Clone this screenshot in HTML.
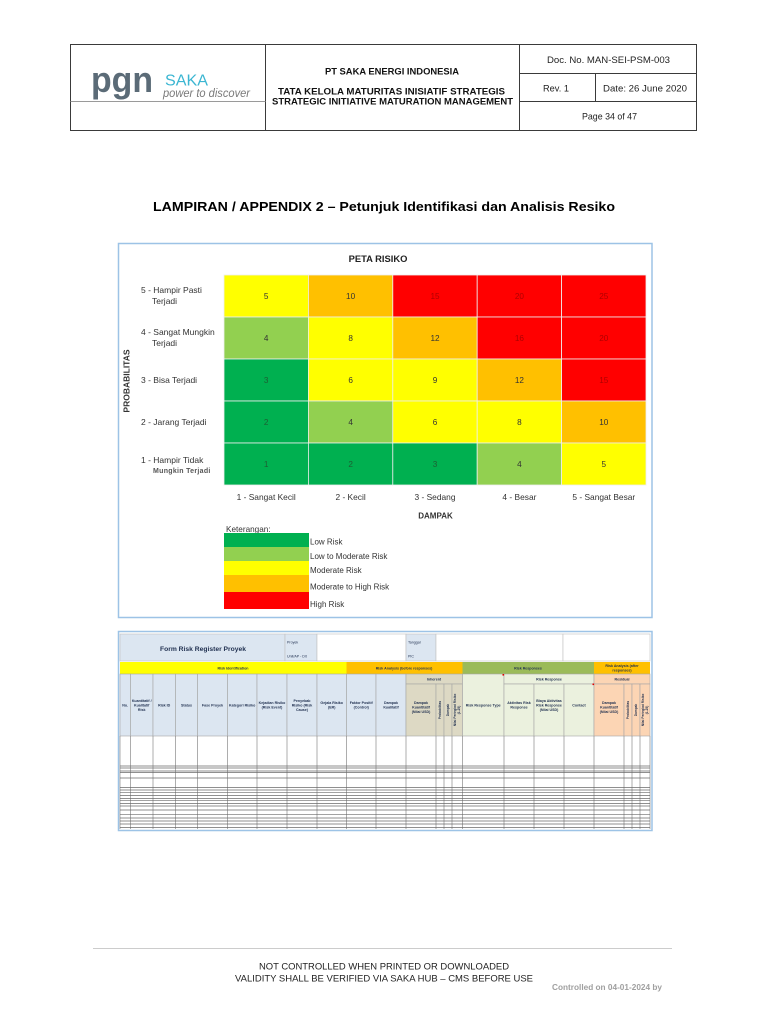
<!DOCTYPE html>
<html>
<head>
<meta charset="utf-8">
<style>
html,body{margin:0;padding:0;background:#fff;}
svg{display:block;}
</style>
</head>
<body>
<svg width="768" height="1024" viewBox="0 0 768 1024" xmlns="http://www.w3.org/2000/svg" font-family="'Liberation Sans', Arial, sans-serif">
<rect x="0" y="0" width="768" height="1024" fill="#fff"/>

<!-- ===== HEADER ===== -->
<g fill="none" stroke="#3a3a3a" stroke-width="1">
  <rect x="70.5" y="44.5" width="626" height="86"/>
  <line x1="265.5" y1="44.5" x2="265.5" y2="130.5"/>
  <line x1="519.5" y1="44.5" x2="519.5" y2="130.5"/>
  <line x1="519.5" y1="73.5" x2="696.5" y2="73.5"/>
  <line x1="519.5" y1="101.5" x2="696.5" y2="101.5"/>
  <line x1="595.5" y1="73.5" x2="595.5" y2="101.5"/>
  <line x1="70.5" y1="101.5" x2="265.5" y2="101.5" stroke="#9a9a9a"/>
</g>
<!-- logo -->
<text x="91" y="92" font-size="36" font-weight="bold" fill="#5b6b77" textLength="62" lengthAdjust="spacingAndGlyphs">pgn</text>
<text x="165" y="85.5" font-size="15.5" fill="#3bb6d2" textLength="43" lengthAdjust="spacingAndGlyphs">SAKA</text>
<text x="163" y="97" font-size="11.5" font-style="italic" fill="#7a7a7a" textLength="87" lengthAdjust="spacingAndGlyphs">power to discover</text>

<!-- title texts -->
<text x="392" y="74.5" font-size="9.4" font-weight="bold" fill="#111" text-anchor="middle">PT SAKA ENERGI INDONESIA</text>
<text x="278" y="94.5" font-size="9.4" font-weight="bold" fill="#111" textLength="227" lengthAdjust="spacingAndGlyphs">TATA KELOLA MATURITAS INISIATIF STRATEGIS</text>
<text x="272" y="104.5" font-size="9.4" font-weight="bold" fill="#111" textLength="241" lengthAdjust="spacingAndGlyphs">STRATEGIC INITIATIVE MATURATION MANAGEMENT</text>

<text x="547" y="63" font-size="9.3" fill="#222" textLength="123" lengthAdjust="spacingAndGlyphs">Doc. No. MAN-SEI-PSM-003</text>
<text x="543" y="91.5" font-size="9.3" fill="#222" textLength="26" lengthAdjust="spacingAndGlyphs">Rev. 1</text>
<text x="603" y="91.5" font-size="9.3" fill="#222" textLength="84" lengthAdjust="spacingAndGlyphs">Date: 26 June 2020</text>
<text x="582" y="119.5" font-size="9.3" fill="#222" textLength="55" lengthAdjust="spacingAndGlyphs">Page 34 of 47</text>

<!-- ===== PAGE HEADING ===== -->
<text x="153" y="211" font-size="13.3" font-weight="bold" fill="#000" textLength="462" lengthAdjust="spacingAndGlyphs">LAMPIRAN / APPENDIX 2 – Petunjuk Identifikasi dan Analisis Resiko</text>

<!-- ===== RISK MAP ===== -->
<rect x="118.5" y="243.5" width="533.5" height="374" fill="#fff" stroke="#9dc3e6" stroke-width="1.5"/>
<text x="378" y="262" font-size="9.4" font-weight="bold" fill="#222" text-anchor="middle">PETA RISIKO</text>

<g stroke="#eeeeee" stroke-width="0.8">
  <rect x="224" y="275" width="84.4" height="42" fill="#ffff00"/>
  <rect x="308.4" y="275" width="84.4" height="42" fill="#ffc000"/>
  <rect x="392.8" y="275" width="84.4" height="42" fill="#ff0000"/>
  <rect x="477.2" y="275" width="84.4" height="42" fill="#ff0000"/>
  <rect x="561.6" y="275" width="84.4" height="42" fill="#ff0000"/>
  <rect x="224" y="317" width="84.4" height="42" fill="#92d050"/>
  <rect x="308.4" y="317" width="84.4" height="42" fill="#ffff00"/>
  <rect x="392.8" y="317" width="84.4" height="42" fill="#ffc000"/>
  <rect x="477.2" y="317" width="84.4" height="42" fill="#ff0000"/>
  <rect x="561.6" y="317" width="84.4" height="42" fill="#ff0000"/>
  <rect x="224" y="359" width="84.4" height="42" fill="#00b050"/>
  <rect x="308.4" y="359" width="84.4" height="42" fill="#ffff00"/>
  <rect x="392.8" y="359" width="84.4" height="42" fill="#ffff00"/>
  <rect x="477.2" y="359" width="84.4" height="42" fill="#ffc000"/>
  <rect x="561.6" y="359" width="84.4" height="42" fill="#ff0000"/>
  <rect x="224" y="401" width="84.4" height="42" fill="#00b050"/>
  <rect x="308.4" y="401" width="84.4" height="42" fill="#92d050"/>
  <rect x="392.8" y="401" width="84.4" height="42" fill="#ffff00"/>
  <rect x="477.2" y="401" width="84.4" height="42" fill="#ffff00"/>
  <rect x="561.6" y="401" width="84.4" height="42" fill="#ffc000"/>
  <rect x="224" y="443" width="84.4" height="42" fill="#00b050"/>
  <rect x="308.4" y="443" width="84.4" height="42" fill="#00b050"/>
  <rect x="392.8" y="443" width="84.4" height="42" fill="#00b050"/>
  <rect x="477.2" y="443" width="84.4" height="42" fill="#92d050"/>
  <rect x="561.6" y="443" width="84.4" height="42" fill="#ffff00"/>
</g>

<g font-size="8.2" text-anchor="middle">
  <text x="266.2" y="299" fill="#333">5</text>
  <text x="350.6" y="299" fill="#333">10</text>
  <text x="435" y="299" fill="#b00000">15</text>
  <text x="519.4" y="299" fill="#b00000">20</text>
  <text x="603.8" y="299" fill="#b00000">25</text>

  <text x="266.2" y="341" fill="#333">4</text>
  <text x="350.6" y="341" fill="#333">8</text>
  <text x="435" y="341" fill="#333">12</text>
  <text x="519.4" y="341" fill="#b00000">16</text>
  <text x="603.8" y="341" fill="#b00000">20</text>

  <text x="266.2" y="383" fill="#1d5e33">3</text>
  <text x="350.6" y="383" fill="#333">6</text>
  <text x="435" y="383" fill="#333">9</text>
  <text x="519.4" y="383" fill="#333">12</text>
  <text x="603.8" y="383" fill="#b00000">15</text>

  <text x="266.2" y="425" fill="#1d5e33">2</text>
  <text x="350.6" y="425" fill="#333">4</text>
  <text x="435" y="425" fill="#333">6</text>
  <text x="519.4" y="425" fill="#333">8</text>
  <text x="603.8" y="425" fill="#333">10</text>

  <text x="266.2" y="467" fill="#1d5e33">1</text>
  <text x="350.6" y="467" fill="#1d5e33">2</text>
  <text x="435" y="467" fill="#1d5e33">3</text>
  <text x="519.4" y="467" fill="#333">4</text>
  <text x="603.8" y="467" fill="#333">5</text>
</g>

<g font-size="8.5" fill="#333">
  <text x="141" y="293">5 - Hampir Pasti</text>
  <text x="152" y="304">Terjadi</text>
  <text x="141" y="335">4 - Sangat Mungkin</text>
  <text x="152" y="346">Terjadi</text>
  <text x="141" y="383">3 - Bisa Terjadi</text>
  <text x="141" y="425">2 - Jarang Terjadi</text>
  <text x="141" y="463">1 - Hampir Tidak</text>
</g>
<text x="153" y="473" font-size="7" font-weight="bold" fill="#555" letter-spacing="0.3">Mungkin Terjadi</text>
<text x="0" y="0" font-size="8.5" font-weight="bold" fill="#333" text-anchor="middle" transform="translate(129.5,381) rotate(-90)">PROBABILITAS</text>

<g font-size="8.4" fill="#333" text-anchor="middle">
  <text x="266.2" y="500">1 - Sangat Kecil</text>
  <text x="350.6" y="500">2 - Kecil</text>
  <text x="435" y="500">3 - Sedang</text>
  <text x="519.4" y="500">4 - Besar</text>
  <text x="603.8" y="500">5 - Sangat Besar</text>
</g>
<text x="435.5" y="518.5" font-size="8" font-weight="bold" fill="#333" text-anchor="middle">DAMPAK</text>

<text x="226" y="532" font-size="8.2" fill="#333">Keterangan:</text>
<rect x="224" y="533" width="85" height="14" fill="#00b050"/>
<rect x="224" y="547" width="85" height="14" fill="#92d050"/>
<rect x="224" y="561" width="85" height="14" fill="#ffff00"/>
<rect x="224" y="575" width="85" height="17" fill="#ffc000"/>
<rect x="224" y="592" width="85" height="17" fill="#ff0000"/>
<g font-size="8" fill="#333">
  <text x="310" y="544.5">Low Risk</text>
  <text x="310" y="559">Low to Moderate Risk</text>
  <text x="310" y="573">Moderate Risk</text>
  <text x="310" y="589.5">Moderate to High Risk</text>
  <text x="310" y="607">High Risk</text>
</g>

<!-- ===== FORM RISK REGISTER ===== -->
<rect x="118.5" y="631.5" width="533.5" height="199" fill="#fff" stroke="#9dc3e6" stroke-width="1.5"/>

<g stroke="#c0c0c0" stroke-width="0.6">
  <rect x="120" y="634" width="165" height="27" fill="#dce6f1"/>
  <rect x="285" y="634" width="32" height="27" fill="#dce6f1"/>
  <rect x="317" y="634" width="89" height="27" fill="#fff"/>
  <rect x="406" y="634" width="30" height="27" fill="#dce6f1"/>
  <rect x="436" y="634" width="127" height="27" fill="#fff"/>
  <rect x="563" y="634" width="87" height="27" fill="#fff"/>
</g>
<text x="160" y="651" font-size="6.8" font-weight="bold" fill="#1f2f4f" textLength="86" lengthAdjust="spacingAndGlyphs">Form Risk Register Proyek</text>
<g font-size="3.6" fill="#1f2f4f">
  <text x="287" y="643.5">Proyek</text>
  <text x="287" y="657.5">Unit/AP - Dit</text>
  <text x="408" y="643.5">Tanggal</text>
  <text x="408" y="657.5">PIC</text>
</g>

<rect x="120" y="662" width="226.5" height="12" fill="#ffff00"/>
<rect x="346.5" y="662" width="116" height="12" fill="#ffc000"/>
<rect x="462.5" y="662" width="131.5" height="12" fill="#9bbb59"/>
<rect x="594" y="662" width="56" height="12" fill="#ffc000"/>
<g font-size="3.6" font-weight="bold" fill="#1f2f4f" text-anchor="middle">
  <text x="233" y="669.5">Risk Identification</text>
  <text x="404" y="669.5">Risk Analysis (before responses)</text>
  <text x="528" y="669.5">Risk Responses</text>
  <text x="622" y="667">Risk Analysis (after</text>
  <text x="622" y="671.5">responses)</text>
</g>

<g stroke="#a6a6a6" stroke-width="0.6">
  <rect x="120" y="674" width="10.5" height="62" fill="#dce6f1"/>
  <rect x="130.5" y="674" width="22.5" height="62" fill="#dce6f1"/>
  <rect x="153" y="674" width="22.5" height="62" fill="#dce6f1"/>
  <rect x="175.5" y="674" width="22" height="62" fill="#dce6f1"/>
  <rect x="197.5" y="674" width="30" height="62" fill="#dce6f1"/>
  <rect x="227.5" y="674" width="29.5" height="62" fill="#dce6f1"/>
  <rect x="257" y="674" width="30" height="62" fill="#dce6f1"/>
  <rect x="287" y="674" width="30" height="62" fill="#dce6f1"/>
  <rect x="317" y="674" width="29.5" height="62" fill="#dce6f1"/>
  <rect x="346.5" y="674" width="29.5" height="62" fill="#dce6f1"/>
  <rect x="376" y="674" width="30" height="62" fill="#dce6f1"/>

  <rect x="406" y="674" width="56.5" height="10" fill="#ddd9c4"/>
  <rect x="406" y="684" width="30" height="52" fill="#ddd9c4"/>
  <rect x="436" y="684" width="8" height="52" fill="#ddd9c4"/>
  <rect x="444" y="684" width="8" height="52" fill="#ddd9c4"/>
  <rect x="452" y="684" width="10.5" height="52" fill="#ddd9c4"/>

  <rect x="462.5" y="674" width="41.5" height="62" fill="#ebf1de"/>
  <rect x="504" y="674" width="90" height="10" fill="#ebf1de"/>
  <rect x="504" y="684" width="30" height="52" fill="#ebf1de"/>
  <rect x="534" y="684" width="30" height="52" fill="#ebf1de"/>
  <rect x="564" y="684" width="30" height="52" fill="#ebf1de"/>

  <rect x="594" y="674" width="56" height="10" fill="#fcd5b4"/>
  <rect x="594" y="684" width="30" height="52" fill="#fcd5b4"/>
  <rect x="624" y="684" width="8" height="52" fill="#fcd5b4"/>
  <rect x="632" y="684" width="8" height="52" fill="#fcd5b4"/>
  <rect x="640" y="684" width="10" height="52" fill="#fcd5b4"/>
</g>
<rect x="502.5" y="674" width="1.6" height="1.6" fill="#e00000"/>
<rect x="592.5" y="683.5" width="1.6" height="1.6" fill="#e00000"/>

<g font-size="3.6" font-weight="bold" fill="#1f2f4f" text-anchor="middle">
  <text x="434" y="680.5">Inherent</text>
  <text x="549" y="680.5">Risk Response</text>
  <text x="622" y="680.5">Residual</text>

  <text x="125.2" y="706.5">No.</text>
  <text x="141.7" y="702">Kuantitatif /</text>
  <text x="141.7" y="706.5">Kualitatif</text>
  <text x="141.7" y="711">Risk</text>
  <text x="164.2" y="706.5">Risk ID</text>
  <text x="186.5" y="706.5">Status</text>
  <text x="212.5" y="706.5">Fase Proyek</text>
  <text x="242.2" y="706.5">Kategori Risiko</text>
  <text x="272" y="704">Kejadian Risiko</text>
  <text x="272" y="708.5">(Risk Event)</text>
  <text x="302" y="702">Penyebab</text>
  <text x="302" y="706.5">Risiko (Risk</text>
  <text x="302" y="711">Cause)</text>
  <text x="331.7" y="704">Gejala Risiko</text>
  <text x="331.7" y="708.5">(ER)</text>
  <text x="361.2" y="704">Faktor Positif</text>
  <text x="361.2" y="708.5">(Control)</text>
  <text x="391" y="704">Dampak</text>
  <text x="391" y="708.5">Kualitatif</text>

  <text x="421" y="704">Dampak</text>
  <text x="421" y="708.5">Kuantitatif</text>
  <text x="421" y="713">(Nilai USD)</text>
  <text x="483.2" y="706.5">Risk Response Type</text>
  <text x="519" y="704">Aktivitas Risk</text>
  <text x="519" y="708.5">Response</text>
  <text x="549" y="702">Biaya Aktivitas</text>
  <text x="549" y="706.5">Risk Response</text>
  <text x="549" y="711">(Nilai USD)</text>
  <text x="579" y="706.5">Contact</text>
  <text x="609" y="704">Dampak</text>
  <text x="609" y="708.5">Kuantitatif</text>
  <text x="609" y="713">(Nilai USD)</text>
</g>
<g font-size="3.2" font-weight="bold" fill="#1f2f4f" text-anchor="middle">
  <text transform="translate(441.2,710) rotate(-90)">Probabilitas</text>
  <text transform="translate(449.2,710) rotate(-90)">Dampak</text>
  <text transform="translate(456,710) rotate(-90)">Nilai Peringkat Risiko</text>
  <text transform="translate(460,710) rotate(-90)">(1-25)</text>
  <text transform="translate(629.2,710) rotate(-90)">Probabilitas</text>
  <text transform="translate(637.2,710) rotate(-90)">Dampak</text>
  <text transform="translate(644,710) rotate(-90)">Nilai Peringkat Risiko</text>
  <text transform="translate(648,710) rotate(-90)">(1-25)</text>
</g>

<g stroke="#8a8a8a" stroke-width="0.7">
  <line x1="120" y1="736" x2="120" y2="829"/>
  <line x1="130.5" y1="736" x2="130.5" y2="829"/>
  <line x1="153" y1="736" x2="153" y2="829"/>
  <line x1="175.5" y1="736" x2="175.5" y2="829"/>
  <line x1="197.5" y1="736" x2="197.5" y2="829"/>
  <line x1="227.5" y1="736" x2="227.5" y2="829"/>
  <line x1="257" y1="736" x2="257" y2="829"/>
  <line x1="287" y1="736" x2="287" y2="829"/>
  <line x1="317" y1="736" x2="317" y2="829"/>
  <line x1="346.5" y1="736" x2="346.5" y2="829"/>
  <line x1="376" y1="736" x2="376" y2="829"/>
  <line x1="406" y1="736" x2="406" y2="829"/>
  <line x1="436" y1="736" x2="436" y2="829"/>
  <line x1="444" y1="736" x2="444" y2="829"/>
  <line x1="452" y1="736" x2="452" y2="829"/>
  <line x1="462.5" y1="736" x2="462.5" y2="829"/>
  <line x1="504" y1="736" x2="504" y2="829"/>
  <line x1="534" y1="736" x2="534" y2="829"/>
  <line x1="564" y1="736" x2="564" y2="829"/>
  <line x1="594" y1="736" x2="594" y2="829"/>
  <line x1="624" y1="736" x2="624" y2="829"/>
  <line x1="632" y1="736" x2="632" y2="829"/>
  <line x1="640" y1="736" x2="640" y2="829"/>
  <line x1="650" y1="736" x2="650" y2="829"/>
</g>
<g stroke="#6a6a6a" stroke-width="0.7">
  <line x1="120" y1="766" x2="650" y2="766"/>
  <line x1="120" y1="768" x2="650" y2="768"/>
  <line x1="120" y1="771" x2="650" y2="771"/>
  <line x1="120" y1="772.5" x2="650" y2="772.5"/>
  <line x1="120" y1="778" x2="650" y2="778"/>
  <line x1="120" y1="787.5" x2="650" y2="787.5"/>
  <line x1="120" y1="790" x2="650" y2="790"/>
  <line x1="120" y1="792.7" x2="650" y2="792.7"/>
  <line x1="120" y1="795.5" x2="650" y2="795.5"/>
  <line x1="120" y1="798.6" x2="650" y2="798.6"/>
  <line x1="120" y1="800.7" x2="650" y2="800.7"/>
  <line x1="120" y1="803.5" x2="650" y2="803.5"/>
  <line x1="120" y1="806" x2="650" y2="806"/>
  <line x1="120" y1="810" x2="650" y2="810"/>
  <line x1="120" y1="814.7" x2="650" y2="814.7"/>
  <line x1="120" y1="818" x2="650" y2="818"/>
  <line x1="120" y1="821" x2="650" y2="821"/>
  <line x1="120" y1="824" x2="650" y2="824"/>
  <line x1="120" y1="827.6" x2="650" y2="827.6"/>
</g>

<!-- ===== FOOTER ===== -->
<line x1="93" y1="948.5" x2="672" y2="948.5" stroke="#cccccc" stroke-width="1"/>
<text x="259" y="969.5" font-size="9.4" fill="#222" textLength="250" lengthAdjust="spacingAndGlyphs">NOT CONTROLLED WHEN PRINTED OR DOWNLOADED</text>
<text x="235" y="981.5" font-size="9.4" fill="#222" textLength="298" lengthAdjust="spacingAndGlyphs">VALIDITY SHALL BE VERIFIED VIA SAKA HUB – CMS BEFORE USE</text>
<text x="552" y="990" font-size="8" font-weight="bold" fill="#a0a0a0" textLength="110" lengthAdjust="spacingAndGlyphs">Controlled on 04-01-2024 by</text>
</svg>
</body>
</html>
